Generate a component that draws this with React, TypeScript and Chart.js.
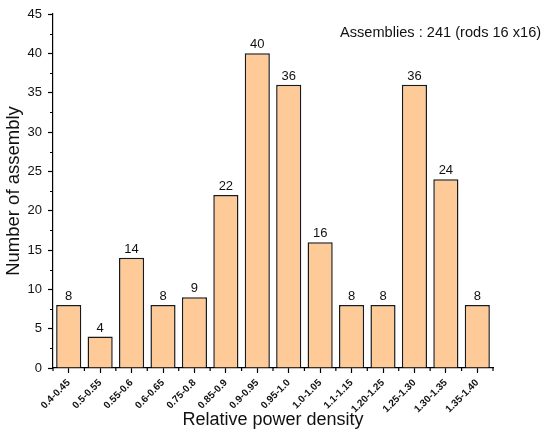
import React, { useEffect, useRef } from "react";
import { Chart, registerables } from "chart.js";

Chart.register(...registerables);

const categories = [
  "0.4-0.45", "0.5-0.55", "0.55-0.6", "0.6-0.65", "0.75-0.8", "0.85-0.9", "0.9-0.95",
  "0.95-1.0", "1.0-1.05", "1.1-1.15", "1.20-1.25", "1.25-1.30", "1.30-1.35", "1.35-1.40",
];
const counts = [8, 4, 14, 8, 9, 22, 40, 36, 16, 8, 8, 36, 24, 8];
const yMinorTicks = [2.5, 7.5, 12.5, 17.5, 22.5, 27.5, 32.5, 37.5, 42.5];
const note = "Assemblies : 241 (rods 16 x16)";

const FONT = "'Liberation Sans', Arial, sans-serif";

// minor ticks, value labels over the bars and the note in the corner
const extrasPlugin = {
  id: "extras",
  afterDraw(chart: any) {
    const ctx = chart.ctx;
    const x = chart.scales.x;
    const y = chart.scales.y;
    ctx.save();
    ctx.strokeStyle = "#000";
    ctx.lineWidth = 1.2;
    ctx.beginPath();
    yMinorTicks.forEach((v) => {
      const py = Math.round(y.getPixelForValue(v)) + 0.5;
      ctx.moveTo(y.right, py);
      ctx.lineTo(y.right - 3, py);
    });
    const step = (x.right - x.left) / categories.length;
    for (let i = 0; i <= categories.length; i++) {
      const px = x.left + i * step;
      ctx.moveTo(px, x.top);
      ctx.lineTo(px, x.top + 3);
    }
    ctx.stroke();

    ctx.fillStyle = "#111";
    ctx.font = `13px ${FONT}`;
    ctx.textAlign = "center";
    ctx.textBaseline = "bottom";
    const meta = chart.getDatasetMeta(0);
    meta.data.forEach((bar: any, i: number) => {
      ctx.fillText(String(counts[i]), bar.x, bar.y - 2);
    });

    ctx.font = `14.6px ${FONT}`;
    ctx.textAlign = "left";
    ctx.textBaseline = "middle";
    ctx.fillText(note, 340, y.getPixelForValue(42.5) - 1);
    ctx.restore();
  },
};

const HistogramChart = () => {
  const canvasRef = useRef<HTMLCanvasElement>(null);
  const chartRef = useRef<any>(null);

  useEffect(() => {
    if (!canvasRef.current) return;
    if (chartRef.current) chartRef.current.destroy();

    chartRef.current = new Chart(canvasRef.current, {
      type: "bar",
      data: {
        labels: categories,
        datasets: [
          {
            data: counts,
            backgroundColor: "#FDCA98",
            borderColor: "#1a1a1a",
            borderWidth: 1.5,
            barPercentage: 0.8,
            categoryPercentage: 1,
          },
        ],
      },
      options: {
        animation: false,
        responsive: false,
        devicePixelRatio: 1,
        layout: { padding: { top: 14, right: 57, left: 0, bottom: 0 } },
        plugins: {
          legend: { display: false },
          tooltip: { enabled: false },
        },
        scales: {
          x: {
            offset: true,
            afterFit: (s: any) => {
              s.height = 70;
            },
            grid: {
              offset: false,
              drawOnChartArea: false,
              tickLength: 5,
              tickWidth: 1.2,
              tickColor: "#000",
            },
            border: { display: true, color: "#000", width: 1.2 },
            ticks: {
              autoSkip: false,
              minRotation: 45,
              maxRotation: 45,
              padding: 4,
              color: "#111",
              font: { family: FONT, size: 10, weight: "bold" },
            },
            title: {
              display: true,
              text: "Relative power density",
              color: "#111",
              font: { family: FONT, size: 18 },
              padding: { top: 0, bottom: 7 },
            },
          },
          y: {
            min: 0,
            max: 45,
            afterFit: (s: any) => {
              s.width = 53;
            },
            grid: {
              drawOnChartArea: false,
              tickLength: 5,
              tickWidth: 1.2,
              tickColor: "#000",
            },
            border: { display: true, color: "#000", width: 1.2 },
            ticks: {
              stepSize: 5,
              padding: 6,
              color: "#111",
              font: { family: FONT, size: 13 },
            },
            title: {
              display: true,
              text: "Number of assembly",
              color: "#111",
              font: { family: FONT, size: 18.5 },
              padding: { top: 3, bottom: 0 },
            },
          },
        },
      },
      plugins: [extrasPlugin],
    });

    return () => {
      if (chartRef.current) {
        chartRef.current.destroy();
        chartRef.current = null;
      }
    };
  }, []);

  return <canvas ref={canvasRef} width={550} height={438} />;
};

export default function App() {
  return (
    <div style={{ position: "fixed", left: 0, top: 0, width: 550, height: 438, background: "#fff" }}>
      <HistogramChart />
    </div>
  );
}
